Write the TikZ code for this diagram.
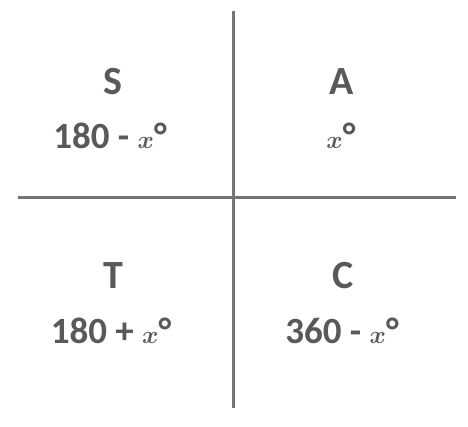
\documentclass[tikz,border=0pt]{standalone}
\usepackage{fontspec}
\setmainfont{Carlito}
\usepackage{tikz}

\definecolor{axisgray}{RGB}{118,118,118}
\definecolor{textgray}{RGB}{89,89,89}

\begin{document}
\begin{tikzpicture}[x=1pt,y=1pt,
  letter/.style={text=textgray,font=\fontsize{40}{44}\selectfont\bfseries,anchor=base},
  angle/.style={text=textgray,font=\fontsize{37}{40}\selectfont\bfseries\boldmath,anchor=base}]
\useasboundingbox (0,0) rectangle (468,427);
\coordinate (top) at (233,416);
\coordinate (bottom) at (233,19);
\coordinate (left) at (18,229);
\coordinate (right) at (456,229);
\draw[axisgray,line width=3pt] (top) -- (bottom);
\draw[axisgray,line width=3pt] (left) -- (right);
%
\node[letter] (S) at (113,332) {S};
\node[angle] (sinval) at (110,278) {180 - $x$°};
\node[letter] (A) at (342,332) {A};
\node[angle] (allval) at (341,278) {$x$°};
%
\node[letter] (T) at (113,138) {T};
\node[angle] (tanval) at (111,83) {180 + $x$°};
\node[letter] (C) at (343,138) {C};
\node[angle] (cosval) at (342,83) {360 - $x$°};
\end{tikzpicture}
\end{document}
